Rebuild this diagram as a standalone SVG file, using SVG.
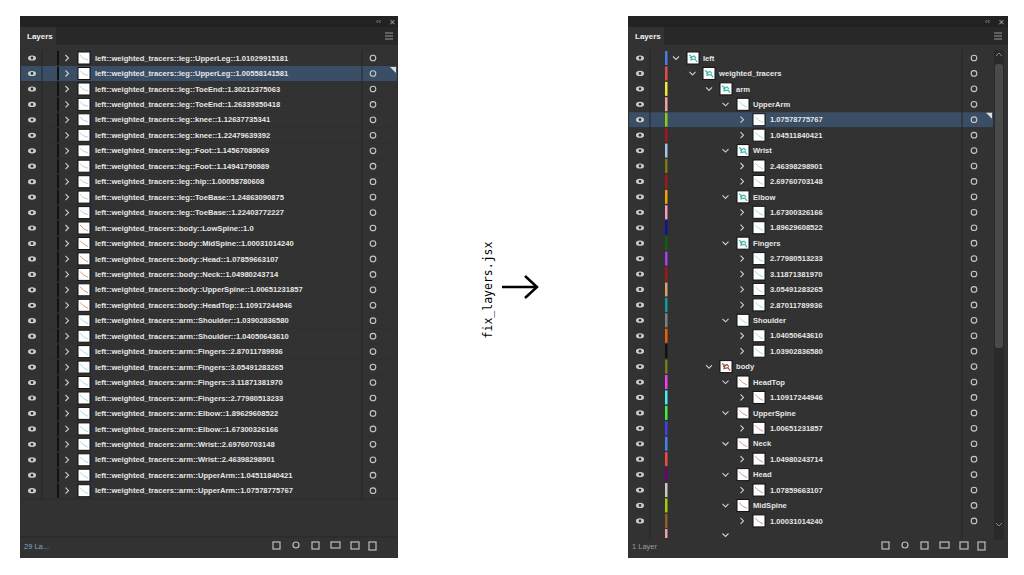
<svg xmlns="http://www.w3.org/2000/svg" width="1024" height="575" viewBox="0 0 1024 575">
<style>
.t{font-family:"Liberation Sans",Arial,sans-serif;font-size:7.6px;fill:#e6e6e6;font-weight:bold}
.tab{font-family:"Liberation Sans",Arial,sans-serif;font-size:8px;fill:#f0f0f0;font-weight:bold}
.ft{font-family:"Liberation Sans",Arial,sans-serif;font-size:7.5px;fill:#9a9a9a}
.sep{stroke:#262626;stroke-width:1}
.chev{fill:none;stroke:#d0d0d0;stroke-width:1.1}
.circ{fill:none;stroke:#c8c8c8;stroke-width:1.1}
.th{fill:#fff;stroke:#111;stroke-width:1}
.icon{fill:none;stroke:#bdbdbd;stroke-width:1.2}
</style>
<defs>
<g id="eye"><ellipse cx="0" cy="0" rx="4" ry="2.6" fill="#d0d0d0"/><circle cx="0" cy="0" r="1.4" fill="#333"/></g>
<path id="cr" d="M-1.5,-3 L1.5,0 L-1.5,3" class="chev"/>
<path id="cd" d="M-3,-1.5 L0,1.5 L3,-1.5" class="chev"/>
<g id="thc"><rect x="0" y="-6" width="12" height="12" class="th"/><path d="M2,-3 Q5,1 10,3" fill="none" stroke="#7fd8d0" stroke-width="0.8"/></g>
<g id="thr"><rect x="0" y="-6" width="12" height="12" class="th"/><path d="M2,-3 Q5,1 10,3" fill="none" stroke="#c08070" stroke-width="0.8"/></g>
<g id="thgc"><rect x="0" y="-6" width="12" height="12" class="th"/><path d="M2,-3 L5,-1 L4,2 L8,1 L10,4 M3,0 L7,-2 L9,0" fill="none" stroke="#40b8a8" stroke-width="1.2"/></g>
<g id="thgr"><rect x="0" y="-6" width="12" height="12" class="th"/><path d="M2,-3 L5,-1 L4,2 L8,1 L10,4 M3,0 L7,-2 L9,0" fill="none" stroke="#a05040" stroke-width="1.2"/></g>
<g id="tl"><rect x="0" y="-6" width="12" height="12" class="th"/><path d="M2,-3 Q4,1 10,2" fill="none" stroke="#9ab" stroke-width="0.6"/></g>
</defs>
<rect width="1024" height="575" fill="#fff"/>

<!-- LEFT PANEL -->
<g id="left-panel">
<rect x="20" y="16" width="378" height="542" fill="#323232"/>
<rect x="20" y="16" width="378" height="11" fill="#222"/>
<text x="376" y="24" class="ft" font-size="7">‹‹</text><text x="389" y="24.5" class="ft" font-size="8">✕</text>
<rect x="20" y="27" width="378" height="18" fill="#282828"/>
<rect x="20" y="27" width="36" height="18" fill="#323232"/>
<text x="27" y="39" class="tab">Layers</text>
<path d="M385,33h8M385,36h8M385,39h8" stroke="#9a9a9a"/>
<rect x="20" y="50" width="378" height="450" fill="#2e2e2e"/>
<line x1="20" y1="537" x2="398" y2="537" class="sep"/>
<text x="24" y="549" class="ft" fill="#7aa0d0" style="fill:#7fa3cc">29 La...</text>
<g class="icon"><rect x="273" y="542" width="7" height="7"/><circle cx="296" cy="545" r="3"/><rect x="312" y="542" width="7" height="7"/><rect x="331" y="542" width="9" height="6"/><rect x="351" y="542" width="8" height="7"/><rect x="369" y="542" width="7" height="8"/></g>
</g>

<g id="left-rows">
<g id="lr1"><rect x="21" y="50.5" width="376" height="15" fill="#323232"/><use href="#eye" x="32" y="58"/><rect x="57" y="51" width="2" height="14" fill="#111"/><use href="#cr" x="67" y="58"/><use href="#tl" x="78" y="58"/><text x="95" y="60.7" class="t">left::weighted_tracers::leg::UpperLeg::1.01029915181</text><circle cx="373" cy="58" r="2.8" class="circ"/></g>
<g id="lr2"><rect x="21" y="66" width="376" height="15" fill="#3a4e66"/><use href="#eye" x="32" y="73.5"/><rect x="57" y="66.5" width="2" height="14" fill="#111"/><use href="#cr" x="67" y="73.5"/><use href="#tl" x="78" y="73.5"/><text x="95" y="76.2" class="t">left::weighted_tracers::leg::UpperLeg::1.00558141581</text><circle cx="373" cy="73.5" r="2.8" class="circ"/><path d="M390,67h6v6z" fill="#ddd"/></g>
</g>
<g id="left-rows-rest" transform="translate(0,0)">
<g transform="translate(0,31)"><rect x="21" y="50.5" width="376" height="15" fill="#323232"/><use href="#eye" x="32" y="58"/><rect x="57" y="51" width="2" height="14" fill="#111"/><use href="#cr" x="67" y="58"/><use href="#tl" x="78" y="58"/><text x="95" y="60.7" class="t">left::weighted_tracers::leg::ToeEnd::1.30212375063</text><circle cx="373" cy="58" r="2.8" class="circ"/></g>
<g transform="translate(0,46.4)"><rect x="21" y="50.5" width="376" height="15" fill="#323232"/><use href="#eye" x="32" y="58"/><rect x="57" y="51" width="2" height="14" fill="#111"/><use href="#cr" x="67" y="58"/><use href="#tl" x="78" y="58"/><text x="95" y="60.7" class="t">left::weighted_tracers::leg::ToeEnd::1.26339350418</text><circle cx="373" cy="58" r="2.8" class="circ"/></g>
<g transform="translate(0,61.8)"><rect x="21" y="50.5" width="376" height="15" fill="#323232"/><use href="#eye" x="32" y="58"/><rect x="57" y="51" width="2" height="14" fill="#111"/><use href="#cr" x="67" y="58"/><use href="#tl" x="78" y="58"/><text x="95" y="60.7" class="t">left::weighted_tracers::leg::knee::1.12637735341</text><circle cx="373" cy="58" r="2.8" class="circ"/></g>
<g transform="translate(0,77.3)"><rect x="21" y="50.5" width="376" height="15" fill="#323232"/><use href="#eye" x="32" y="58"/><rect x="57" y="51" width="2" height="14" fill="#111"/><use href="#cr" x="67" y="58"/><use href="#tl" x="78" y="58"/><text x="95" y="60.7" class="t">left::weighted_tracers::leg::knee::1.22479639392</text><circle cx="373" cy="58" r="2.8" class="circ"/></g>
<g transform="translate(0,92.8)"><rect x="21" y="50.5" width="376" height="15" fill="#323232"/><use href="#eye" x="32" y="58"/><rect x="57" y="51" width="2" height="14" fill="#111"/><use href="#cr" x="67" y="58"/><use href="#tl" x="78" y="58"/><text x="95" y="60.7" class="t">left::weighted_tracers::leg::Foot::1.14567089069</text><circle cx="373" cy="58" r="2.8" class="circ"/></g>
<g transform="translate(0,108.2)"><rect x="21" y="50.5" width="376" height="15" fill="#323232"/><use href="#eye" x="32" y="58"/><rect x="57" y="51" width="2" height="14" fill="#111"/><use href="#cr" x="67" y="58"/><use href="#tl" x="78" y="58"/><text x="95" y="60.7" class="t">left::weighted_tracers::leg::Foot::1.14941790989</text><circle cx="373" cy="58" r="2.8" class="circ"/></g>
<g transform="translate(0,123.7)"><rect x="21" y="50.5" width="376" height="15" fill="#323232"/><use href="#eye" x="32" y="58"/><rect x="57" y="51" width="2" height="14" fill="#111"/><use href="#cr" x="67" y="58"/><use href="#tl" x="78" y="58"/><text x="95" y="60.7" class="t">left::weighted_tracers::leg::hip::1.00058780608</text><circle cx="373" cy="58" r="2.8" class="circ"/></g>
<g transform="translate(0,139.1)"><rect x="21" y="50.5" width="376" height="15" fill="#323232"/><use href="#eye" x="32" y="58"/><rect x="57" y="51" width="2" height="14" fill="#111"/><use href="#cr" x="67" y="58"/><use href="#tl" x="78" y="58"/><text x="95" y="60.7" class="t">left::weighted_tracers::leg::ToeBase::1.24863090875</text><circle cx="373" cy="58" r="2.8" class="circ"/></g>
<g transform="translate(0,154.6)"><rect x="21" y="50.5" width="376" height="15" fill="#323232"/><use href="#eye" x="32" y="58"/><rect x="57" y="51" width="2" height="14" fill="#111"/><use href="#cr" x="67" y="58"/><use href="#tl" x="78" y="58"/><text x="95" y="60.7" class="t">left::weighted_tracers::leg::ToeBase::1.22403772227</text><circle cx="373" cy="58" r="2.8" class="circ"/></g>
<g transform="translate(0,170)"><rect x="21" y="50.5" width="376" height="15" fill="#323232"/><use href="#eye" x="32" y="58"/><rect x="57" y="51" width="2" height="14" fill="#111"/><use href="#cr" x="67" y="58"/><use href="#thr" x="78" y="58"/><text x="95" y="60.7" class="t">left::weighted_tracers::body::LowSpine::1.0</text><circle cx="373" cy="58" r="2.8" class="circ"/></g>
<g transform="translate(0,185.5)"><rect x="21" y="50.5" width="376" height="15" fill="#323232"/><use href="#eye" x="32" y="58"/><rect x="57" y="51" width="2" height="14" fill="#111"/><use href="#cr" x="67" y="58"/><use href="#thr" x="78" y="58"/><text x="95" y="60.7" class="t">left::weighted_tracers::body::MidSpine::1.00031014240</text><circle cx="373" cy="58" r="2.8" class="circ"/></g>
<g transform="translate(0,200.9)"><rect x="21" y="50.5" width="376" height="15" fill="#323232"/><use href="#eye" x="32" y="58"/><rect x="57" y="51" width="2" height="14" fill="#111"/><use href="#cr" x="67" y="58"/><use href="#thr" x="78" y="58"/><text x="95" y="60.7" class="t">left::weighted_tracers::body::Head::1.07859663107</text><circle cx="373" cy="58" r="2.8" class="circ"/></g>
<g transform="translate(0,216.4)"><rect x="21" y="50.5" width="376" height="15" fill="#323232"/><use href="#eye" x="32" y="58"/><rect x="57" y="51" width="2" height="14" fill="#111"/><use href="#cr" x="67" y="58"/><use href="#thr" x="78" y="58"/><text x="95" y="60.7" class="t">left::weighted_tracers::body::Neck::1.04980243714</text><circle cx="373" cy="58" r="2.8" class="circ"/></g>
<g transform="translate(0,231.8)"><rect x="21" y="50.5" width="376" height="15" fill="#323232"/><use href="#eye" x="32" y="58"/><rect x="57" y="51" width="2" height="14" fill="#111"/><use href="#cr" x="67" y="58"/><use href="#thr" x="78" y="58"/><text x="95" y="60.7" class="t">left::weighted_tracers::body::UpperSpine::1.00651231857</text><circle cx="373" cy="58" r="2.8" class="circ"/></g>
<g transform="translate(0,247.3)"><rect x="21" y="50.5" width="376" height="15" fill="#323232"/><use href="#eye" x="32" y="58"/><rect x="57" y="51" width="2" height="14" fill="#111"/><use href="#cr" x="67" y="58"/><use href="#thr" x="78" y="58"/><text x="95" y="60.7" class="t">left::weighted_tracers::body::HeadTop::1.10917244946</text><circle cx="373" cy="58" r="2.8" class="circ"/></g>
<g transform="translate(0,262.7)"><rect x="21" y="50.5" width="376" height="15" fill="#323232"/><use href="#eye" x="32" y="58"/><rect x="57" y="51" width="2" height="14" fill="#111"/><use href="#cr" x="67" y="58"/><use href="#thc" x="78" y="58"/><text x="95" y="60.7" class="t">left::weighted_tracers::arm::Shoulder::1.03902836580</text><circle cx="373" cy="58" r="2.8" class="circ"/></g>
<g transform="translate(0,278.2)"><rect x="21" y="50.5" width="376" height="15" fill="#323232"/><use href="#eye" x="32" y="58"/><rect x="57" y="51" width="2" height="14" fill="#111"/><use href="#cr" x="67" y="58"/><use href="#thc" x="78" y="58"/><text x="95" y="60.7" class="t">left::weighted_tracers::arm::Shoulder::1.04050643610</text><circle cx="373" cy="58" r="2.8" class="circ"/></g>
<g transform="translate(0,293.6)"><rect x="21" y="50.5" width="376" height="15" fill="#323232"/><use href="#eye" x="32" y="58"/><rect x="57" y="51" width="2" height="14" fill="#111"/><use href="#cr" x="67" y="58"/><use href="#thc" x="78" y="58"/><text x="95" y="60.7" class="t">left::weighted_tracers::arm::Fingers::2.87011789936</text><circle cx="373" cy="58" r="2.8" class="circ"/></g>
<g transform="translate(0,309.1)"><rect x="21" y="50.5" width="376" height="15" fill="#323232"/><use href="#eye" x="32" y="58"/><rect x="57" y="51" width="2" height="14" fill="#111"/><use href="#cr" x="67" y="58"/><use href="#thc" x="78" y="58"/><text x="95" y="60.7" class="t">left::weighted_tracers::arm::Fingers::3.05491283265</text><circle cx="373" cy="58" r="2.8" class="circ"/></g>
<g transform="translate(0,324.5)"><rect x="21" y="50.5" width="376" height="15" fill="#323232"/><use href="#eye" x="32" y="58"/><rect x="57" y="51" width="2" height="14" fill="#111"/><use href="#cr" x="67" y="58"/><use href="#thc" x="78" y="58"/><text x="95" y="60.7" class="t">left::weighted_tracers::arm::Fingers::3.11871381970</text><circle cx="373" cy="58" r="2.8" class="circ"/></g>
<g transform="translate(0,340)"><rect x="21" y="50.5" width="376" height="15" fill="#323232"/><use href="#eye" x="32" y="58"/><rect x="57" y="51" width="2" height="14" fill="#111"/><use href="#cr" x="67" y="58"/><use href="#thc" x="78" y="58"/><text x="95" y="60.7" class="t">left::weighted_tracers::arm::Fingers::2.77980513233</text><circle cx="373" cy="58" r="2.8" class="circ"/></g>
<g transform="translate(0,355.4)"><rect x="21" y="50.5" width="376" height="15" fill="#323232"/><use href="#eye" x="32" y="58"/><rect x="57" y="51" width="2" height="14" fill="#111"/><use href="#cr" x="67" y="58"/><use href="#thc" x="78" y="58"/><text x="95" y="60.7" class="t">left::weighted_tracers::arm::Elbow::1.89629608522</text><circle cx="373" cy="58" r="2.8" class="circ"/></g>
<g transform="translate(0,370.9)"><rect x="21" y="50.5" width="376" height="15" fill="#323232"/><use href="#eye" x="32" y="58"/><rect x="57" y="51" width="2" height="14" fill="#111"/><use href="#cr" x="67" y="58"/><use href="#thc" x="78" y="58"/><text x="95" y="60.7" class="t">left::weighted_tracers::arm::Elbow::1.67300326166</text><circle cx="373" cy="58" r="2.8" class="circ"/></g>
<g transform="translate(0,386.3)"><rect x="21" y="50.5" width="376" height="15" fill="#323232"/><use href="#eye" x="32" y="58"/><rect x="57" y="51" width="2" height="14" fill="#111"/><use href="#cr" x="67" y="58"/><use href="#thc" x="78" y="58"/><text x="95" y="60.7" class="t">left::weighted_tracers::arm::Wrist::2.69760703148</text><circle cx="373" cy="58" r="2.8" class="circ"/></g>
<g transform="translate(0,401.8)"><rect x="21" y="50.5" width="376" height="15" fill="#323232"/><use href="#eye" x="32" y="58"/><rect x="57" y="51" width="2" height="14" fill="#111"/><use href="#cr" x="67" y="58"/><use href="#thc" x="78" y="58"/><text x="95" y="60.7" class="t">left::weighted_tracers::arm::Wrist::2.46398298901</text><circle cx="373" cy="58" r="2.8" class="circ"/></g>
<g transform="translate(0,417.2)"><rect x="21" y="50.5" width="376" height="15" fill="#323232"/><use href="#eye" x="32" y="58"/><rect x="57" y="51" width="2" height="14" fill="#111"/><use href="#cr" x="67" y="58"/><use href="#thc" x="78" y="58"/><text x="95" y="60.7" class="t">left::weighted_tracers::arm::UpperArm::1.04511840421</text><circle cx="373" cy="58" r="2.8" class="circ"/></g>
<g transform="translate(0,432.7)"><rect x="21" y="50.5" width="376" height="15" fill="#323232"/><use href="#eye" x="32" y="58"/><rect x="57" y="51" width="2" height="14" fill="#111"/><use href="#cr" x="67" y="58"/><use href="#thc" x="78" y="58"/><text x="95" y="60.7" class="t">left::weighted_tracers::arm::UpperArm::1.07578775767</text><circle cx="373" cy="58" r="2.8" class="circ"/></g>
<line x1="42" y1="50" x2="42" y2="499" class="sep"/>
<line x1="362" y1="50" x2="362" y2="499" class="sep"/>
</g>

<!-- ARROW -->
<g id="connector">
<text transform="translate(492,290) rotate(-90)" text-anchor="middle" font-family="'DejaVu Sans Mono','Liberation Mono',monospace" font-size="11.5" fill="#000">fix_layers.jsx</text>
<path d="M502,287 H537 M525,276 L537,287 L525,298" fill="none" stroke="#000" stroke-width="2.5"/>
</g>

<!-- RIGHT PANEL -->
<g id="right-panel">
<rect x="628" y="16" width="380" height="542" fill="#323232"/>
<rect x="628" y="16" width="380" height="11" fill="#222"/>
<text x="985" y="24" class="ft" font-size="7">‹‹</text><text x="998" y="24.5" class="ft" font-size="8">✕</text>
<rect x="628" y="27" width="380" height="18" fill="#282828"/>
<rect x="628" y="27" width="36" height="18" fill="#323232"/>
<text x="635" y="39" class="tab">Layers</text>
<path d="M994,33h8M994,36h8M994,39h8" stroke="#9a9a9a"/>
<rect x="628" y="50" width="366" height="490" fill="#323232"/>
<rect x="994" y="50" width="10" height="490" fill="#2a2a2a"/>
<rect x="995" y="64" width="8" height="284" rx="3" fill="#4a4a4a"/>
<path d="M996,56l3,-3l3,3M996,523l3,3l3,-3" fill="none" stroke="#888"/>
<rect x="628" y="540" width="380" height="18" fill="#323232"/>
<text x="632" y="549" class="ft">1 Layer</text>
<g class="icon"><rect x="882" y="542" width="7" height="7"/><circle cx="905" cy="545" r="3"/><rect x="921" y="542" width="7" height="7"/><rect x="940" y="542" width="9" height="6"/><rect x="960" y="542" width="8" height="7"/><rect x="978" y="542" width="7" height="8"/></g>
</g>

<g id="right-rows">
<g transform="translate(0,0)"><rect x="629" y="50.5" width="364" height="15" fill="#323232"/><use href="#eye" x="640" y="58"/><rect x="665" y="51" width="2.5" height="14" fill="#4a7ce8"/><use href="#cd" x="676" y="58"/><use href="#thgc" x="687" y="58"/><text x="703" y="60.7" class="t">left</text><circle cx="974" cy="58" r="2.8" class="circ"/></g>
<g transform="translate(0,15.43)"><rect x="629" y="50.5" width="364" height="15" fill="#323232"/><use href="#eye" x="640" y="58"/><rect x="665" y="51" width="2.5" height="14" fill="#e84a4a"/><use href="#cd" x="692.5" y="58"/><use href="#thgc" x="703" y="58"/><text x="719" y="60.7" class="t">weighted_tracers</text><circle cx="974" cy="58" r="2.8" class="circ"/></g>
<g transform="translate(0,30.86)"><rect x="629" y="50.5" width="364" height="15" fill="#323232"/><use href="#eye" x="640" y="58"/><rect x="665" y="51" width="2.5" height="14" fill="#f0e83a"/><use href="#cd" x="709" y="58"/><use href="#thgc" x="720" y="58"/><text x="736" y="60.7" class="t">arm</text><circle cx="974" cy="58" r="2.8" class="circ"/></g>
<g transform="translate(0,46.29)"><rect x="629" y="50.5" width="364" height="15" fill="#323232"/><use href="#eye" x="640" y="58"/><rect x="665" y="51" width="2.5" height="14" fill="#f0a0a0"/><use href="#cd" x="725.5" y="58"/><use href="#thc" x="737" y="58"/><text x="753" y="60.7" class="t">UpperArm</text><circle cx="974" cy="58" r="2.8" class="circ"/></g>
<g transform="translate(0,61.72)"><rect x="629" y="50.5" width="364" height="15" fill="#3a4e66"/><use href="#eye" x="640" y="58"/><rect x="665" y="51" width="2.5" height="14" fill="#8ccc14"/><use href="#cr" x="742" y="58"/><use href="#thc" x="753" y="58"/><text x="770" y="60.7" class="t">1.07578775767</text><circle cx="974" cy="58" r="2.8" class="circ"/><path d="M986,51h6v6z" fill="#ddd"/></g>
<g transform="translate(0,77.15)"><rect x="629" y="50.5" width="364" height="15" fill="#323232"/><use href="#eye" x="640" y="58"/><rect x="665" y="51" width="2.5" height="14" fill="#a01818"/><use href="#cr" x="742" y="58"/><use href="#thc" x="753" y="58"/><text x="770" y="60.7" class="t">1.04511840421</text><circle cx="974" cy="58" r="2.8" class="circ"/></g>
<g transform="translate(0,92.58)"><rect x="629" y="50.5" width="364" height="15" fill="#323232"/><use href="#eye" x="640" y="58"/><rect x="665" y="51" width="2.5" height="14" fill="#9cc4f0"/><use href="#cd" x="725.5" y="58"/><use href="#thgc" x="737" y="58"/><text x="753" y="60.7" class="t">Wrist</text><circle cx="974" cy="58" r="2.8" class="circ"/></g>
<g transform="translate(0,108.01)"><rect x="629" y="50.5" width="364" height="15" fill="#323232"/><use href="#eye" x="640" y="58"/><rect x="665" y="51" width="2.5" height="14" fill="#7a7a14"/><use href="#cr" x="742" y="58"/><use href="#thc" x="753" y="58"/><text x="770" y="60.7" class="t">2.46398298901</text><circle cx="974" cy="58" r="2.8" class="circ"/></g>
<g transform="translate(0,123.44)"><rect x="629" y="50.5" width="364" height="15" fill="#323232"/><use href="#eye" x="640" y="58"/><rect x="665" y="51" width="2.5" height="14" fill="#a01818"/><use href="#cr" x="742" y="58"/><use href="#thc" x="753" y="58"/><text x="770" y="60.7" class="t">2.69760703148</text><circle cx="974" cy="58" r="2.8" class="circ"/></g>
<g transform="translate(0,138.87)"><rect x="629" y="50.5" width="364" height="15" fill="#323232"/><use href="#eye" x="640" y="58"/><rect x="665" y="51" width="2.5" height="14" fill="#f0a000"/><use href="#cd" x="725.5" y="58"/><use href="#thgc" x="737" y="58"/><text x="753" y="60.7" class="t">Elbow</text><circle cx="974" cy="58" r="2.8" class="circ"/></g>
<g transform="translate(0,154.3)"><rect x="629" y="50.5" width="364" height="15" fill="#323232"/><use href="#eye" x="640" y="58"/><rect x="665" y="51" width="2.5" height="14" fill="#f09cc8"/><use href="#cr" x="742" y="58"/><use href="#thc" x="753" y="58"/><text x="770" y="60.7" class="t">1.67300326166</text><circle cx="974" cy="58" r="2.8" class="circ"/></g>
<g transform="translate(0,169.73)"><rect x="629" y="50.5" width="364" height="15" fill="#323232"/><use href="#eye" x="640" y="58"/><rect x="665" y="51" width="2.5" height="14" fill="#10109c"/><use href="#cr" x="742" y="58"/><use href="#thc" x="753" y="58"/><text x="770" y="60.7" class="t">1.89629608522</text><circle cx="974" cy="58" r="2.8" class="circ"/></g>
<g transform="translate(0,185.16)"><rect x="629" y="50.5" width="364" height="15" fill="#323232"/><use href="#eye" x="640" y="58"/><rect x="665" y="51" width="2.5" height="14" fill="#106010"/><use href="#cd" x="725.5" y="58"/><use href="#thgc" x="737" y="58"/><text x="753" y="60.7" class="t">Fingers</text><circle cx="974" cy="58" r="2.8" class="circ"/></g>
<g transform="translate(0,200.59)"><rect x="629" y="50.5" width="364" height="15" fill="#323232"/><use href="#eye" x="640" y="58"/><rect x="665" y="51" width="2.5" height="14" fill="#a040f0"/><use href="#cr" x="742" y="58"/><use href="#thc" x="753" y="58"/><text x="770" y="60.7" class="t">2.77980513233</text><circle cx="974" cy="58" r="2.8" class="circ"/></g>
<g transform="translate(0,216.02)"><rect x="629" y="50.5" width="364" height="15" fill="#323232"/><use href="#eye" x="640" y="58"/><rect x="665" y="51" width="2.5" height="14" fill="#a01818"/><use href="#cr" x="742" y="58"/><use href="#thc" x="753" y="58"/><text x="770" y="60.7" class="t">3.11871381970</text><circle cx="974" cy="58" r="2.8" class="circ"/></g>
<g transform="translate(0,231.45)"><rect x="629" y="50.5" width="364" height="15" fill="#323232"/><use href="#eye" x="640" y="58"/><rect x="665" y="51" width="2.5" height="14" fill="#d8a070"/><use href="#cr" x="742" y="58"/><use href="#thc" x="753" y="58"/><text x="770" y="60.7" class="t">3.05491283265</text><circle cx="974" cy="58" r="2.8" class="circ"/></g>
<g transform="translate(0,246.88)"><rect x="629" y="50.5" width="364" height="15" fill="#323232"/><use href="#eye" x="640" y="58"/><rect x="665" y="51" width="2.5" height="14" fill="#109c9c"/><use href="#cr" x="742" y="58"/><use href="#thc" x="753" y="58"/><text x="770" y="60.7" class="t">2.87011789936</text><circle cx="974" cy="58" r="2.8" class="circ"/></g>
<g transform="translate(0,262.31)"><rect x="629" y="50.5" width="364" height="15" fill="#323232"/><use href="#eye" x="640" y="58"/><rect x="665" y="51" width="2.5" height="14" fill="#808080"/><use href="#cd" x="725.5" y="58"/><use href="#thc" x="737" y="58"/><text x="753" y="60.7" class="t">Shoulder</text><circle cx="974" cy="58" r="2.8" class="circ"/></g>
<g transform="translate(0,277.74)"><rect x="629" y="50.5" width="364" height="15" fill="#323232"/><use href="#eye" x="640" y="58"/><rect x="665" y="51" width="2.5" height="14" fill="#f06000"/><use href="#cr" x="742" y="58"/><use href="#thc" x="753" y="58"/><text x="770" y="60.7" class="t">1.04050643610</text><circle cx="974" cy="58" r="2.8" class="circ"/></g>
<g transform="translate(0,293.17)"><rect x="629" y="50.5" width="364" height="15" fill="#323232"/><use href="#eye" x="640" y="58"/><rect x="665" y="51" width="2.5" height="14" fill="#101010"/><use href="#cr" x="742" y="58"/><use href="#thc" x="753" y="58"/><text x="770" y="60.7" class="t">1.03902836580</text><circle cx="974" cy="58" r="2.8" class="circ"/></g>
<g transform="translate(0,308.6)"><rect x="629" y="50.5" width="364" height="15" fill="#323232"/><use href="#eye" x="640" y="58"/><rect x="665" y="51" width="2.5" height="14" fill="#7a7a14"/><use href="#cd" x="709" y="58"/><use href="#thgr" x="720" y="58"/><text x="736" y="60.7" class="t">body</text><circle cx="974" cy="58" r="2.8" class="circ"/></g>
<g transform="translate(0,324.03)"><rect x="629" y="50.5" width="364" height="15" fill="#323232"/><use href="#eye" x="640" y="58"/><rect x="665" y="51" width="2.5" height="14" fill="#f040f0"/><use href="#cd" x="725.5" y="58"/><use href="#thr" x="737" y="58"/><text x="753" y="60.7" class="t">HeadTop</text><circle cx="974" cy="58" r="2.8" class="circ"/></g>
<g transform="translate(0,339.46)"><rect x="629" y="50.5" width="364" height="15" fill="#323232"/><use href="#eye" x="640" y="58"/><rect x="665" y="51" width="2.5" height="14" fill="#40f0f0"/><use href="#cr" x="742" y="58"/><use href="#thr" x="753" y="58"/><text x="770" y="60.7" class="t">1.10917244946</text><circle cx="974" cy="58" r="2.8" class="circ"/></g>
<g transform="translate(0,354.89)"><rect x="629" y="50.5" width="364" height="15" fill="#323232"/><use href="#eye" x="640" y="58"/><rect x="665" y="51" width="2.5" height="14" fill="#40f040"/><use href="#cd" x="725.5" y="58"/><use href="#thr" x="737" y="58"/><text x="753" y="60.7" class="t">UpperSpine</text><circle cx="974" cy="58" r="2.8" class="circ"/></g>
<g transform="translate(0,370.32)"><rect x="629" y="50.5" width="364" height="15" fill="#323232"/><use href="#eye" x="640" y="58"/><rect x="665" y="51" width="2.5" height="14" fill="#4040f0"/><use href="#cr" x="742" y="58"/><use href="#thr" x="753" y="58"/><text x="770" y="60.7" class="t">1.00651231857</text><circle cx="974" cy="58" r="2.8" class="circ"/></g>
<g transform="translate(0,385.75)"><rect x="629" y="50.5" width="364" height="15" fill="#323232"/><use href="#eye" x="640" y="58"/><rect x="665" y="51" width="2.5" height="14" fill="#4080f0"/><use href="#cd" x="725.5" y="58"/><use href="#thr" x="737" y="58"/><text x="753" y="60.7" class="t">Neck</text><circle cx="974" cy="58" r="2.8" class="circ"/></g>
<g transform="translate(0,401.18)"><rect x="629" y="50.5" width="364" height="15" fill="#323232"/><use href="#eye" x="640" y="58"/><rect x="665" y="51" width="2.5" height="14" fill="#f04848"/><use href="#cr" x="742" y="58"/><use href="#thr" x="753" y="58"/><text x="770" y="60.7" class="t">1.04980243714</text><circle cx="974" cy="58" r="2.8" class="circ"/></g>
<g transform="translate(0,416.61)"><rect x="629" y="50.5" width="364" height="15" fill="#323232"/><use href="#eye" x="640" y="58"/><rect x="665" y="51" width="2.5" height="14" fill="#700070"/><use href="#cd" x="725.5" y="58"/><use href="#thr" x="737" y="58"/><text x="753" y="60.7" class="t">Head</text><circle cx="974" cy="58" r="2.8" class="circ"/></g>
<g transform="translate(0,432.04)"><rect x="629" y="50.5" width="364" height="15" fill="#323232"/><use href="#eye" x="640" y="58"/><rect x="665" y="51" width="2.5" height="14" fill="#c8c8c8"/><use href="#cr" x="742" y="58"/><use href="#thr" x="753" y="58"/><text x="770" y="60.7" class="t">1.07859663107</text><circle cx="974" cy="58" r="2.8" class="circ"/></g>
<g transform="translate(0,447.47)"><rect x="629" y="50.5" width="364" height="15" fill="#323232"/><use href="#eye" x="640" y="58"/><rect x="665" y="51" width="2.5" height="14" fill="#a0d000"/><use href="#cd" x="725.5" y="58"/><use href="#thr" x="737" y="58"/><text x="753" y="60.7" class="t">MidSpine</text><circle cx="974" cy="58" r="2.8" class="circ"/></g>
<g transform="translate(0,462.9)"><rect x="629" y="50.5" width="364" height="15" fill="#323232"/><use href="#eye" x="640" y="58"/><rect x="665" y="51" width="2.5" height="14" fill="#906020"/><use href="#cr" x="742" y="58"/><use href="#thr" x="753" y="58"/><text x="770" y="60.7" class="t">1.00031014240</text><circle cx="974" cy="58" r="2.8" class="circ"/></g>
<line x1="650" y1="50" x2="650" y2="539" class="sep"/>
<line x1="962" y1="50" x2="962" y2="539" class="sep"/>
<rect x="665" y="529" width="2.5" height="9" fill="#f0a0a0"/>
<use href="#cd" x="725.5" y="535"/>
</g>
</svg>
